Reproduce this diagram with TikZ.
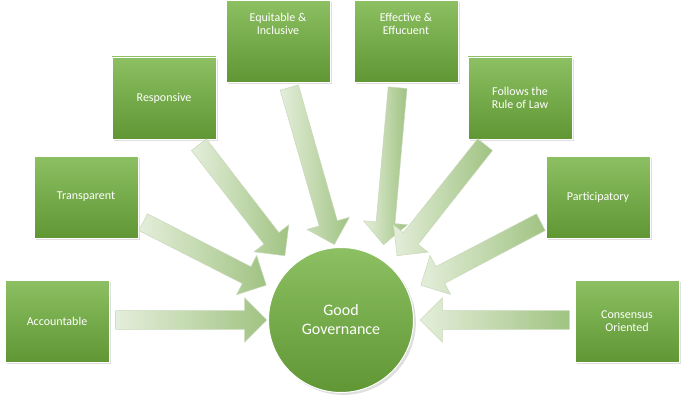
\documentclass[tikz,border=0pt]{standalone}
\usepackage{fontspec}
\setmainfont{Carlito}
\usetikzlibrary{shapes.arrows,calc,shadows}
\definecolor{gtop}{RGB}{140,192,98}
\definecolor{gbot}{RGB}{96,150,52}
\definecolor{aline}{RGB}{200,215,185}
\definecolor{aleft}{RGB}{228,238,218}
\definecolor{aright}{RGB}{160,195,130}
\begin{document}
\begin{tikzpicture}[x=1pt,y=-1pt,
  box/.style={draw=white,line width=0.8pt,top color=gtop,bottom color=gbot,text=white,font=\fontsize{12}{13}\selectfont,align=center,minimum width=104pt,minimum height=82pt,inner sep=2pt,drop shadow={opacity=0.25}},
  arr/.style={single arrow,draw=aline,line width=0.5pt,left color=aleft,right color=aright,minimum width=44pt,single arrow head extend=9pt,single arrow head indent=0pt,inner sep=6.5pt}]
\useasboundingbox (0,0) rectangle (685,401);
\node[circle,draw=white,line width=1pt,top color=gtop,bottom color=gbot,minimum size=145pt,text=white,font=\fontsize{16}{19}\selectfont,align=center,drop shadow={opacity=0.25}] (c) at (341,320) {Good\\Governance};
\node[box] (b1) at (57,321) {Accountable};
\node[box] (b2) at (86,197) {Transparent};
\node[box] (b3) at (164,98) {Responsive};
\node[box] (b4) at (278,41) {Equitable \&\\Inclusive\\[22pt]};
\node[box] (b5) at (406,41) {Effective \&\\Effucuent\\[22pt]};
\node[box] (b6) at (520,98) {Follows the\\Rule of Law};
\node[box] (b7) at (598,197) {Participatory};
\node[box] (b8) at (627,321) {Consensus\\Oriented};
\foreach \k/\sx/\sy/\ex/\ey in {1/111/320/262/320, 2/139/220/262/283, 3/196/141/282/252, 4/288/83/333/240, 5/398/83/384/240, 6/488/141/400/252, 7/545/220/425/283, 8/574/320/425/320}{
  \coordinate (s\k) at (\sx,\sy);
  \coordinate (e\k) at (\ex,\ey);
  \path let \p1=($(e\k)-(s\k)$), \n1={veclen(\x1,\y1)}, \n2={atan2(\y1,\x1)} in
    node[arr,minimum height=\n1,rotate=\n2] (a\k) at ($(s\k)!0.5!(e\k)$) {};
}
\end{tikzpicture}
\end{document}
